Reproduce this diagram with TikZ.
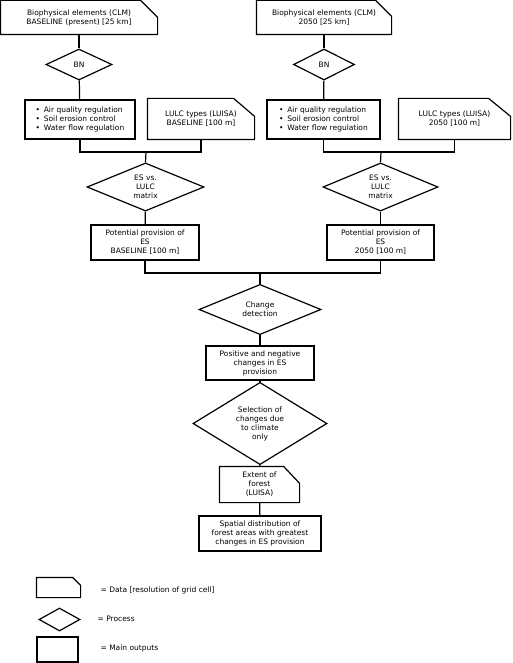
\documentclass[tikz,border=0pt]{standalone}
\usepackage{fontspec}
\setmainfont{DejaVu Sans}
\usetikzlibrary{shapes.geometric}

% outline of a data node: rectangle with its north east corner cut off
\newcommand{\datacut}[3]{%
  \draw (#1.south west) -- (#1.north west) -- ([xshift=-#2]#1.north east)
    -- ([yshift=-#3]#1.north east) -- (#1.south east) -- cycle;}

\begin{document}
\begin{tikzpicture}[x=1pt, y=-1pt, line width=1.2pt,
    every node/.style={font=\fontsize{7.5}{9}\selectfont, align=center, inner sep=0pt},
    databox/.style={rectangle},
    procbox/.style={draw, diamond},
    outbox/.style={draw, rectangle}]
                \useasboundingbox (0,0) rectangle (513,663);

                % left column: baseline
                \node[databox, minimum width=156pt, minimum height=33pt] (climA) at (79, 17.5) {Biophysical elements (CLM)\\BASELINE (present) [25 km]};
                \node[procbox, minimum width=66pt, minimum height=31pt] (bnA) at (79, 64.5) {BN};
                \node[outbox, minimum width=110pt, minimum height=39pt, align=left] (esA) at (80, 119.5) {\textbullet\enspace Air quality regulation\\\textbullet\enspace Soil erosion control\\\textbullet\enspace Water flow regulation};
                \node[databox, minimum width=106pt, minimum height=40pt] (lulcA) at (201, 119) {LULC types (LUISA)\\BASELINE [100 m]};
                \node[procbox, minimum width=117pt, minimum height=46pt] (matA) at (145.5, 187) {ES vs.\\LULC\\matrix};
                \node[outbox, minimum width=108pt, minimum height=35pt] (potA) at (145, 242.5) {Potential provision of\\ES\\BASELINE [100 m]};

                % right column: 2050
                \node[databox, minimum width=134pt, minimum height=33pt] (climB) at (324, 17.5) {Biophysical elements (CLM)\\2050 [25 km]};
                \node[procbox, minimum width=61pt, minimum height=31pt] (bnB) at (324, 64.5) {BN};
                \node[outbox, minimum width=113pt, minimum height=39pt, align=left] (esB) at (323.5, 119.5) {\textbullet\enspace Air quality regulation\\\textbullet\enspace Soil erosion control\\\textbullet\enspace Water flow regulation};
                \node[databox, minimum width=111pt, minimum height=40pt] (lulcB) at (454.5, 119) {LULC types (LUISA)\\2050 [100 m]};
                \node[procbox, minimum width=115pt, minimum height=46pt] (matB) at (380.5, 187) {ES vs.\\LULC\\matrix};
                \node[outbox, minimum width=107pt, minimum height=35pt] (potB) at (380.5, 242.5) {Potential provision of\\ES\\2050 [100 m]};

                % centre column
                \node[procbox, minimum width=122pt, minimum height=45pt] (change) at (260, 309.5) {Change\\detection};
                \node[outbox, minimum width=108pt, minimum height=34pt] (posneg) at (260, 363) {Positive and negative\\changes in ES\\provision};
                \node[procbox, minimum width=134pt, minimum height=55pt] (select) at (260, 423.5) {Selection of\\changes due\\to climate\\only};
                \node[databox, minimum width=79pt, minimum height=35pt] (forest) at (259.5, 484.5) {Extent of\\forest\\(LUISA)};
                \node[outbox, minimum width=122pt, minimum height=35pt] (spatial) at (260, 533.5) {Spatial distribution of\\forest areas with greatest\\changes in ES provision};

                % legend
                \node[databox, minimum width=43pt, minimum height=19pt] (legData) at (58.5, 587.5) {};
                \node[procbox, minimum width=41pt, minimum height=23pt] (legProc) at (59.5, 619.5) {};
                \node[outbox, minimum width=41pt, minimum height=25pt] (legOut) at (57.5, 649.5) {};
                \node[anchor=west] (txtData) at (100, 590) {= Data [resolution of grid cell]};
                \node[anchor=west] (txtProc) at (97, 619) {= Process};
                \node[anchor=west] (txtOut) at (100, 648.5) {= Main outputs};

                % data outlines
                \datacut{climA}{17pt}{17pt}
                \datacut{climB}{16pt}{16pt}
                \datacut{lulcA}{21pt}{18pt}
                \datacut{lulcB}{22pt}{18pt}
                \datacut{forest}{16pt}{17pt}
                \datacut{legData}{8pt}{8pt}

                \coordinate (joinA) at (146, 152);
                \coordinate (joinB) at (381, 152);
                \coordinate (merge) at (260, 273);

                % climate -> BN -> services
                \draw (climA) -- (bnA);
                \draw (bnA) -- (esA);
                \draw (climB) -- (bnB);
                \draw (bnB) -- (esB);

                % services + land use -> matrix
                \draw (esA.south) |- (joinA) -| (lulcA.south);
                \draw (joinA) -- (matA.north);
                \draw (esB.south) |- (joinB) -| (lulcB.south);
                \draw (joinB) -- (matB.north);

                % matrix -> provision
                \draw (matA) -- (potA);
                \draw (matB) -- (potB);

                % provision -> change detection
                \draw (potA.south) |- (merge);
                \draw (potB.south) |- (merge);
                \draw (merge) -- (change.north);

                % change detection -> outputs
                \draw (change) -- (posneg);
                \draw (posneg) -- (select);
                \draw (select) -- (forest);
                \draw (forest) -- (spatial);

            \end{tikzpicture}
\end{document}
